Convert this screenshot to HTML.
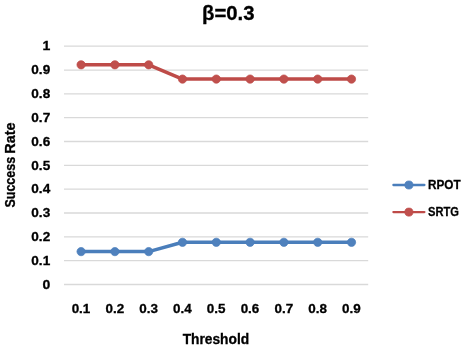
<!DOCTYPE html><html><head><meta charset="utf-8"><title>chart</title><style>html,body{margin:0;padding:0;background:#fff}svg{display:block}text{font-family:"Liberation Sans",sans-serif;font-weight:bold;fill:#000;stroke:#000;stroke-width:0.3}</style></head><body>
<svg width="462" height="350" viewBox="0 0 462 350">
<rect width="462" height="350" fill="#fff"/>
<line x1="64.0" x2="368.2" y1="284.50" y2="284.50" stroke="#D9D9D9" stroke-width="1.3"/>
<line x1="64.0" x2="368.2" y1="260.67" y2="260.67" stroke="#D9D9D9" stroke-width="1.3"/>
<line x1="64.0" x2="368.2" y1="236.84" y2="236.84" stroke="#D9D9D9" stroke-width="1.3"/>
<line x1="64.0" x2="368.2" y1="213.01" y2="213.01" stroke="#D9D9D9" stroke-width="1.3"/>
<line x1="64.0" x2="368.2" y1="189.18" y2="189.18" stroke="#D9D9D9" stroke-width="1.3"/>
<line x1="64.0" x2="368.2" y1="165.35" y2="165.35" stroke="#D9D9D9" stroke-width="1.3"/>
<line x1="64.0" x2="368.2" y1="141.52" y2="141.52" stroke="#D9D9D9" stroke-width="1.3"/>
<line x1="64.0" x2="368.2" y1="117.69" y2="117.69" stroke="#D9D9D9" stroke-width="1.3"/>
<line x1="64.0" x2="368.2" y1="93.86" y2="93.86" stroke="#D9D9D9" stroke-width="1.3"/>
<line x1="64.0" x2="368.2" y1="70.03" y2="70.03" stroke="#D9D9D9" stroke-width="1.3"/>
<line x1="64.0" x2="368.2" y1="46.20" y2="46.20" stroke="#D9D9D9" stroke-width="1.3"/>
<text x="50.2" y="288.70" font-size="13.4" text-anchor="end" textLength="7.8" lengthAdjust="spacingAndGlyphs">0</text>
<text x="50.2" y="264.87" font-size="13.4" text-anchor="end" textLength="18.9" lengthAdjust="spacingAndGlyphs">0.1</text>
<text x="50.2" y="241.04" font-size="13.4" text-anchor="end" textLength="18.9" lengthAdjust="spacingAndGlyphs">0.2</text>
<text x="50.2" y="217.21" font-size="13.4" text-anchor="end" textLength="18.9" lengthAdjust="spacingAndGlyphs">0.3</text>
<text x="50.2" y="193.38" font-size="13.4" text-anchor="end" textLength="18.9" lengthAdjust="spacingAndGlyphs">0.4</text>
<text x="50.2" y="169.55" font-size="13.4" text-anchor="end" textLength="18.9" lengthAdjust="spacingAndGlyphs">0.5</text>
<text x="50.2" y="145.72" font-size="13.4" text-anchor="end" textLength="18.9" lengthAdjust="spacingAndGlyphs">0.6</text>
<text x="50.2" y="121.89" font-size="13.4" text-anchor="end" textLength="18.9" lengthAdjust="spacingAndGlyphs">0.7</text>
<text x="50.2" y="98.06" font-size="13.4" text-anchor="end" textLength="18.9" lengthAdjust="spacingAndGlyphs">0.8</text>
<text x="50.2" y="74.23" font-size="13.4" text-anchor="end" textLength="18.9" lengthAdjust="spacingAndGlyphs">0.9</text>
<text x="50.2" y="50.40" font-size="13.4" text-anchor="end" textLength="7.8" lengthAdjust="spacingAndGlyphs">1</text>
<text x="81.00" y="312.6" font-size="13.4" text-anchor="middle" textLength="18.7" lengthAdjust="spacingAndGlyphs">0.1</text>
<text x="114.80" y="312.6" font-size="13.4" text-anchor="middle" textLength="18.7" lengthAdjust="spacingAndGlyphs">0.2</text>
<text x="148.60" y="312.6" font-size="13.4" text-anchor="middle" textLength="18.7" lengthAdjust="spacingAndGlyphs">0.3</text>
<text x="182.40" y="312.6" font-size="13.4" text-anchor="middle" textLength="18.7" lengthAdjust="spacingAndGlyphs">0.4</text>
<text x="216.20" y="312.6" font-size="13.4" text-anchor="middle" textLength="18.7" lengthAdjust="spacingAndGlyphs">0.5</text>
<text x="250.00" y="312.6" font-size="13.4" text-anchor="middle" textLength="18.7" lengthAdjust="spacingAndGlyphs">0.6</text>
<text x="283.80" y="312.6" font-size="13.4" text-anchor="middle" textLength="18.7" lengthAdjust="spacingAndGlyphs">0.7</text>
<text x="317.60" y="312.6" font-size="13.4" text-anchor="middle" textLength="18.7" lengthAdjust="spacingAndGlyphs">0.8</text>
<text x="351.40" y="312.6" font-size="13.4" text-anchor="middle" textLength="18.7" lengthAdjust="spacingAndGlyphs">0.9</text>
<polyline points="81.10,251.60 114.90,251.60 148.70,251.60 182.50,242.30 216.30,242.30 250.10,242.30 283.90,242.30 317.70,242.30 351.50,242.30" fill="none" stroke="#4A7EBB" stroke-width="3.5" stroke-linejoin="round" stroke-linecap="round"/>
<circle cx="81.10" cy="251.60" r="4.15" fill="#4F81BD" stroke="#4A7EBB" stroke-width="0.7"/>
<circle cx="114.90" cy="251.60" r="4.15" fill="#4F81BD" stroke="#4A7EBB" stroke-width="0.7"/>
<circle cx="148.70" cy="251.60" r="4.15" fill="#4F81BD" stroke="#4A7EBB" stroke-width="0.7"/>
<circle cx="182.50" cy="242.30" r="4.15" fill="#4F81BD" stroke="#4A7EBB" stroke-width="0.7"/>
<circle cx="216.30" cy="242.30" r="4.15" fill="#4F81BD" stroke="#4A7EBB" stroke-width="0.7"/>
<circle cx="250.10" cy="242.30" r="4.15" fill="#4F81BD" stroke="#4A7EBB" stroke-width="0.7"/>
<circle cx="283.90" cy="242.30" r="4.15" fill="#4F81BD" stroke="#4A7EBB" stroke-width="0.7"/>
<circle cx="317.70" cy="242.30" r="4.15" fill="#4F81BD" stroke="#4A7EBB" stroke-width="0.7"/>
<circle cx="351.50" cy="242.30" r="4.15" fill="#4F81BD" stroke="#4A7EBB" stroke-width="0.7"/>
<polyline points="81.10,64.80 114.90,64.80 148.70,64.80 182.50,79.10 216.30,79.10 250.10,79.10 283.90,79.10 317.70,79.10 351.50,79.10" fill="none" stroke="#BE4B48" stroke-width="3.5" stroke-linejoin="round" stroke-linecap="round"/>
<circle cx="81.10" cy="64.80" r="4.15" fill="#C0504D" stroke="#BE4B48" stroke-width="0.7"/>
<circle cx="114.90" cy="64.80" r="4.15" fill="#C0504D" stroke="#BE4B48" stroke-width="0.7"/>
<circle cx="148.70" cy="64.80" r="4.15" fill="#C0504D" stroke="#BE4B48" stroke-width="0.7"/>
<circle cx="182.50" cy="79.10" r="4.15" fill="#C0504D" stroke="#BE4B48" stroke-width="0.7"/>
<circle cx="216.30" cy="79.10" r="4.15" fill="#C0504D" stroke="#BE4B48" stroke-width="0.7"/>
<circle cx="250.10" cy="79.10" r="4.15" fill="#C0504D" stroke="#BE4B48" stroke-width="0.7"/>
<circle cx="283.90" cy="79.10" r="4.15" fill="#C0504D" stroke="#BE4B48" stroke-width="0.7"/>
<circle cx="317.70" cy="79.10" r="4.15" fill="#C0504D" stroke="#BE4B48" stroke-width="0.7"/>
<circle cx="351.50" cy="79.10" r="4.15" fill="#C0504D" stroke="#BE4B48" stroke-width="0.7"/>
<text x="228.3" y="20" font-size="20.7" text-anchor="middle" textLength="52.6" lengthAdjust="spacingAndGlyphs">β=0.3</text>
<text x="215.9" y="343.8" font-size="14.1" text-anchor="middle" textLength="66.5" lengthAdjust="spacingAndGlyphs">Threshold</text>
<text transform="translate(15,207.6) rotate(-90)" font-size="14.5" textLength="50.8" lengthAdjust="spacingAndGlyphs">Success</text>
<text transform="translate(15,153.7) rotate(-90)" font-size="14.5" textLength="31.3" lengthAdjust="spacingAndGlyphs">Rate</text>
<line x1="393.4" x2="424.4" y1="185.0" y2="185.0" stroke="#4A7EBB" stroke-width="2.3" stroke-linecap="round"/>
<circle cx="408.9" cy="185.0" r="4.05" fill="#4F81BD" stroke="#4A7EBB" stroke-width="0.7"/>
<text x="428" y="189.0" font-size="13.2" textLength="32.7" lengthAdjust="spacingAndGlyphs">RPOT</text>
<line x1="393.4" x2="424.4" y1="212.1" y2="212.1" stroke="#BE4B48" stroke-width="2.3" stroke-linecap="round"/>
<circle cx="408.9" cy="212.1" r="4.05" fill="#C0504D" stroke="#BE4B48" stroke-width="0.7"/>
<text x="428" y="216.1" font-size="13.2" textLength="31" lengthAdjust="spacingAndGlyphs">SRTG</text>
</svg></body></html>
